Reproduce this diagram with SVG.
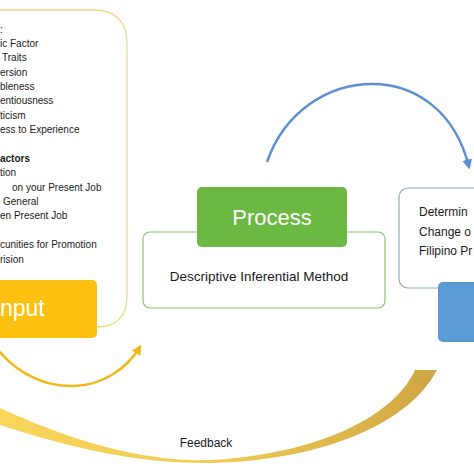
<svg xmlns="http://www.w3.org/2000/svg" width="474" height="474" viewBox="0 0 474 474">
<defs>
<style>
.t{font-family:"Liberation Sans",Arial,sans-serif;fill:#1a1a1a}
.s10{font-size:10px}
.s12{font-size:12px}
.w{fill:#ffffff;font-family:"Liberation Sans",Arial,sans-serif}
</style>
<linearGradient id="fb" x1="0" y1="0" x2="1" y2="0">
<stop offset="0" stop-color="#fad55c"/>
<stop offset="0.5" stop-color="#f0cb55"/>
<stop offset="1" stop-color="#cfa543"/>
</linearGradient>
<marker id="ab" markerWidth="5" markerHeight="5" refX="3" refY="2" orient="auto" markerUnits="strokeWidth">
<path d="M0,0 L4,2 L0,4 Z" fill="#5b8fd0"/>
</marker>
<marker id="ay" markerWidth="5" markerHeight="5" refX="3" refY="2" orient="auto" markerUnits="strokeWidth">
<path d="M0,0 L4,2 L0,4 Z" fill="#f0b81a"/>
</marker>
</defs>
<rect width="474" height="474" fill="#ffffff"/>

<g id="connectors">
<path d="M 267 162 C 285 110, 330 84, 372 84 C 414 84, 455 110, 469 167" fill="none" stroke="#5b8fd0" stroke-width="2.5" marker-end="url(#ab)"/>
<path d="M -2 350 C 20 376, 48 387, 74 386 C 104 385, 127 368, 140 347" fill="none" stroke="#f0b81a" stroke-width="2.5" marker-end="url(#ay)"/>
<path d="M 0 425 C 70 448, 140 464, 210 463 C 310 461, 405 430, 437 370 L 415 370 C 392 420, 310 455, 210 460 C 140 462, 70 440, 0 408 Z" fill="url(#fb)"/>
<text class="t s12" x="206" y="447" text-anchor="middle">Feedback</text>
</g>

<g id="input">
<path d="M -10 10 H 93 Q 127 10 127 44 V 295 Q 127 327 97 327 H -10" fill="none" stroke="#f3d889" stroke-width="1.3"/>
<text class="t s10" x="0" y="33">:</text>
<text class="t s10" x="0" y="47">ic Factor</text>
<text class="t s10" x="2" y="61">Traits</text>
<text class="t s10" x="0" y="76">ersion</text>
<text class="t s10" x="0" y="90">bleness</text>
<text class="t s10" x="0" y="104">entiousness</text>
<text class="t s10" x="0" y="119">ticism</text>
<text class="t s10" x="0" y="133">ess to Experience</text>
<text class="t s10" x="0" y="162" font-weight="bold">actors</text>
<text class="t s10" x="0" y="176">tion</text>
<text class="t s10" x="12" y="191">on your Present Job</text>
<text class="t s10" x="3" y="205">General</text>
<text class="t s10" x="0" y="219">en Present Job</text>
<text class="t s10" x="0" y="248">cunities for Promotion</text>
<text class="t s10" x="0" y="263">rision</text>
<rect x="-20" y="280" width="117" height="58" rx="5" fill="#fcc010"/>
<text class="w" x="0" y="316" font-size="23">nput</text>
</g>

<g id="process">
<rect x="143" y="232" width="242" height="76" rx="7" fill="#ffffff" stroke="#8cc46a" stroke-width="1.2"/>
<rect x="197" y="187" width="150" height="60" rx="5" fill="#6bb843"/>
<text class="w" x="272" y="225" font-size="22" text-anchor="middle">Process</text>
<text class="t" x="259" y="281" font-size="13.5" text-anchor="middle">Descriptive Inferential Method</text>
</g>

<g id="output">
<rect x="399" y="188" width="100" height="100" rx="9" fill="#ffffff" stroke="#8fa8c6" stroke-width="1.2"/>
<text class="t s12" x="419" y="216">Determin</text>
<text class="t s12" x="419" y="236">Change o</text>
<text class="t s12" x="419" y="255">Filipino Pr</text>
<rect x="438" y="282" width="60" height="60" rx="5" fill="#5b9bd5"/>
</g>
</svg>
